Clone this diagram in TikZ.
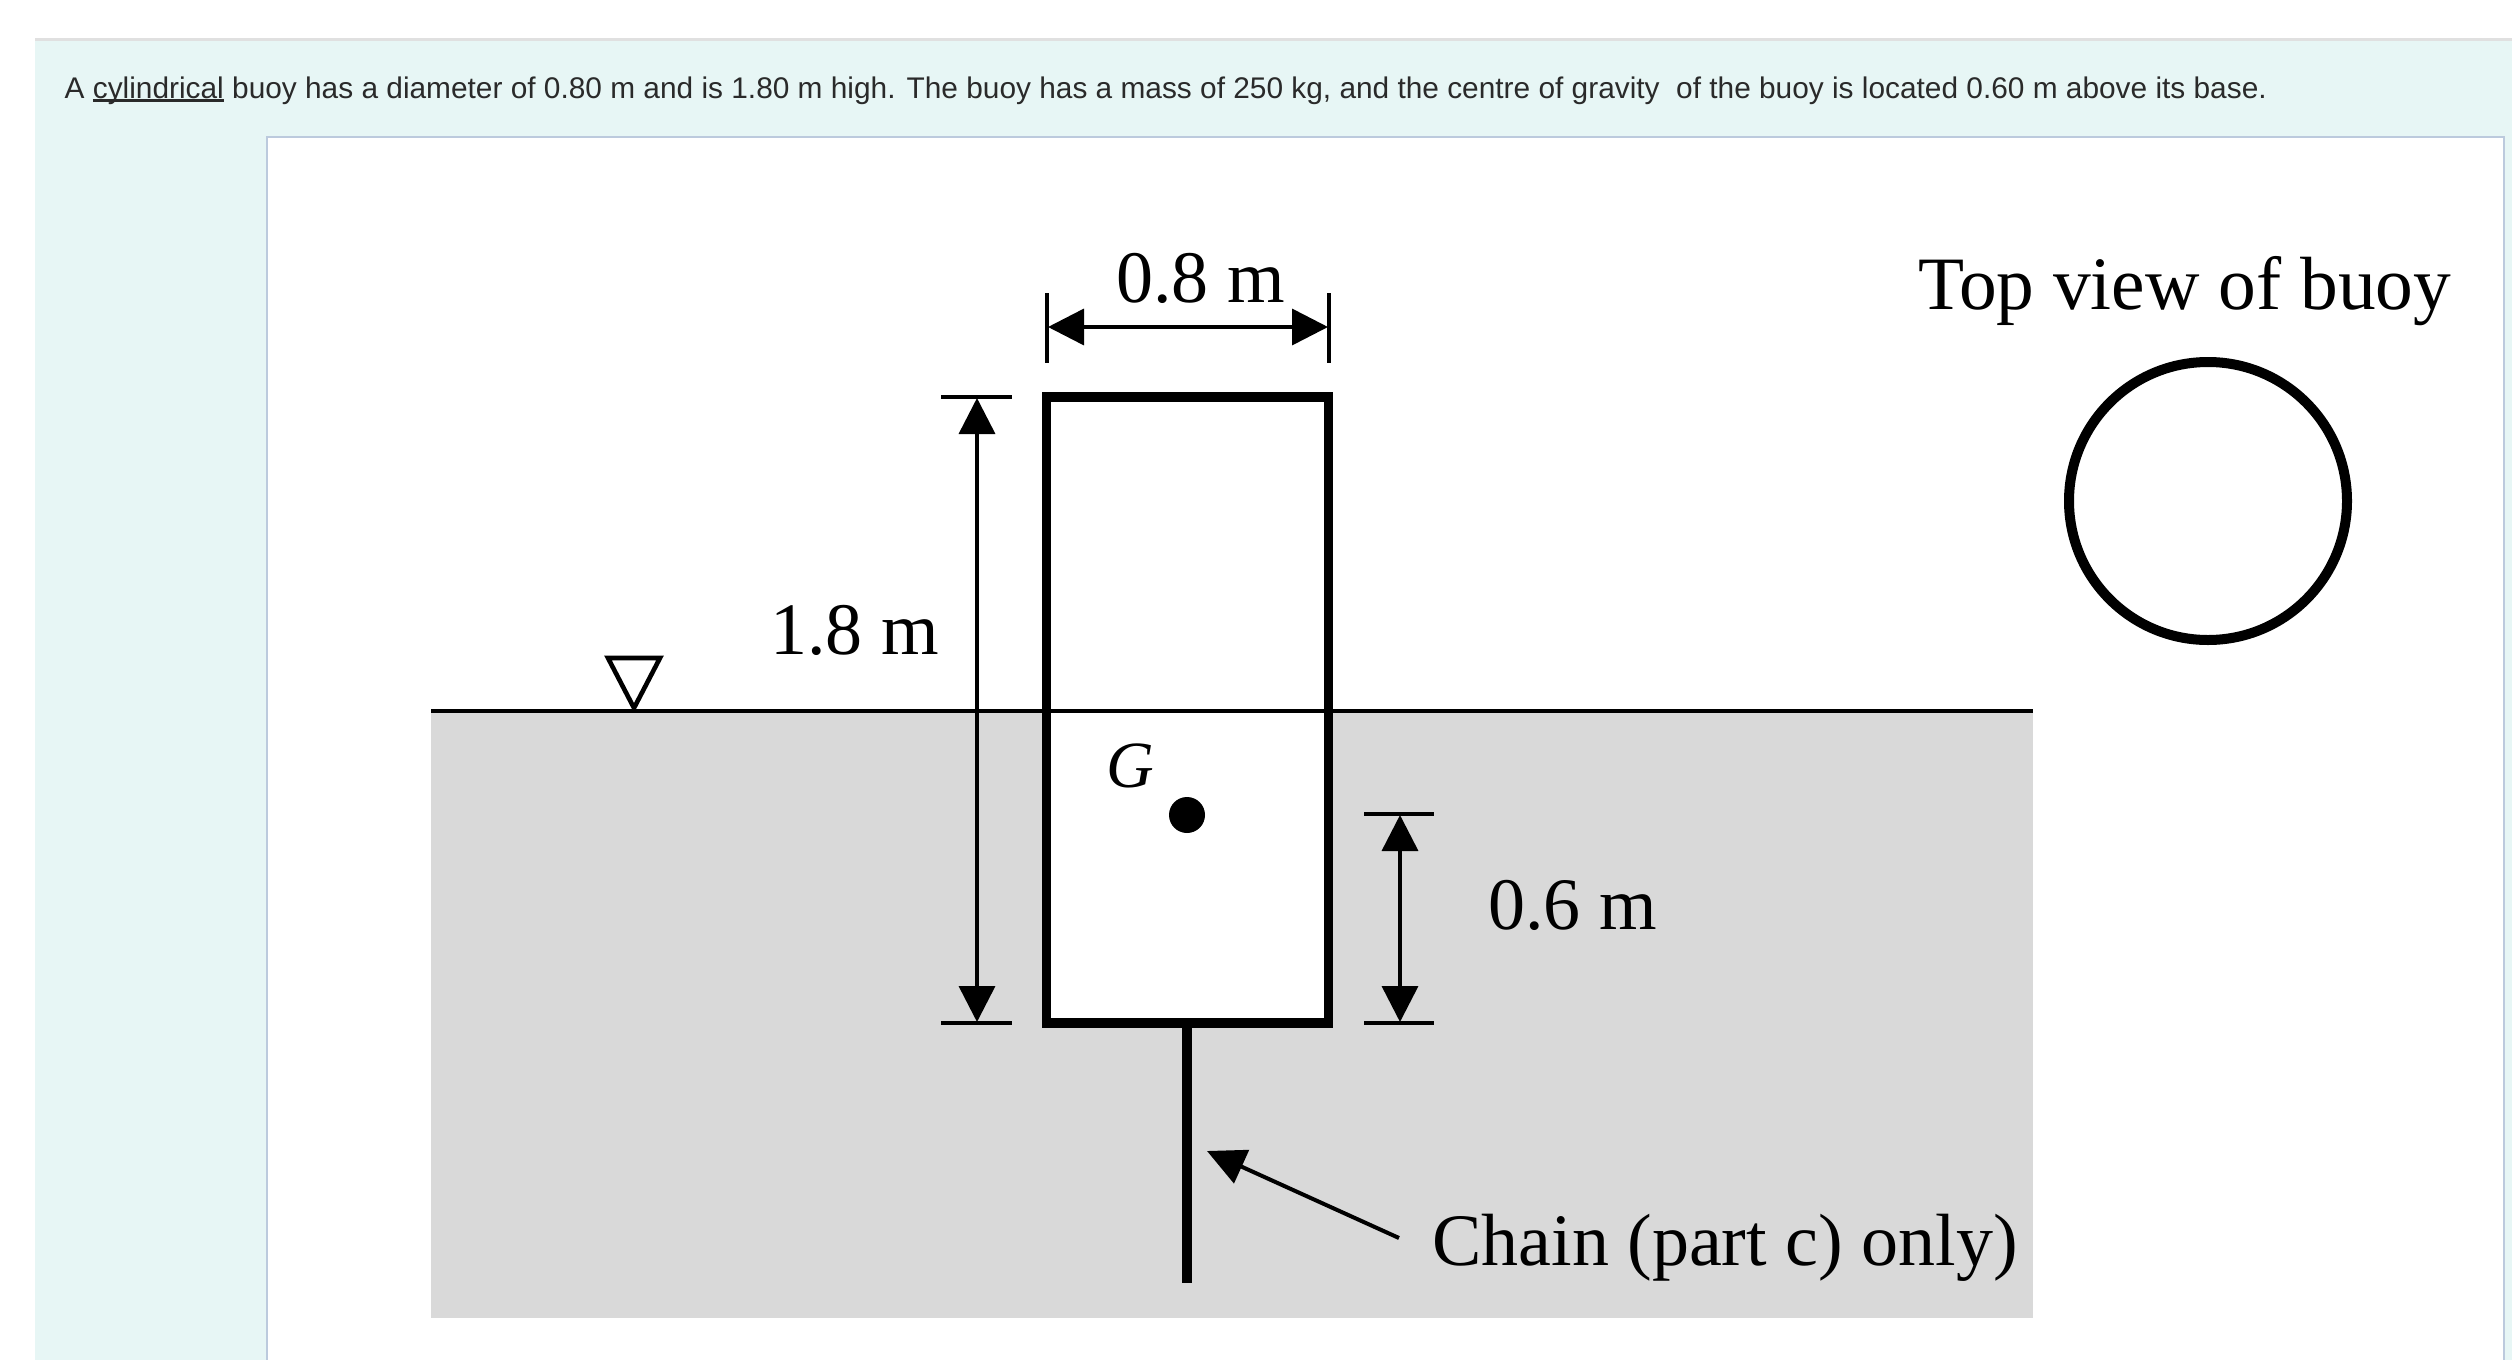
\documentclass[tikz,border=0pt]{standalone}
\usepackage{fontspec}
\setmainfont{Liberation Sans}
\newfontfamily\serifface{Liberation Serif}
\usetikzlibrary{arrows.meta}
\definecolor{panelbg}{HTML}{E7F6F5}
\definecolor{panelrule}{HTML}{E0E0E0}
\definecolor{figrule}{HTML}{BCCADD}
\definecolor{waterfill}{HTML}{D9D9D9}
\definecolor{prose}{HTML}{2A2A2A}
\newsavebox\ulword
\tikzset{
  x=1pt,y=-1pt,
  lbl/.style={inner sep=0pt,anchor=base west,font=\serifface\fontsize{74}{80}\selectfont,text=black},
  dimline/.style={line width=3.6pt,{Triangle[length=36pt,width=36pt]}-{Triangle[length=36pt,width=36pt]},shorten <=1pt,shorten >=1pt},
  tick/.style={line width=3.6pt},
  heavy/.style={line width=9.6pt},
  pt/.style={coordinate}
}
\begin{document}
\begin{tikzpicture}
\useasboundingbox (0,0) rectangle (2512,1360);
\fill[white] (0,0) rectangle (2512,1360);
\fill[panelbg] (35,39) rectangle (2512,1360);
\fill[panelrule] (35,38) rectangle (2512,41);
\fill[white] (266.5,136.5) rectangle (2504,1360);
\draw[figrule,line width=2pt] (266.5,1360) -- (266.5,136.5) -- (2504,136.5) -- (2504,1360);
\node[inner sep=0pt,anchor=base west,font=\fontsize{29.84}{36}\selectfont,text=prose] (prob) at (64.5,98)
  {\sbox\ulword{cylindrical}A \rlap{\rule[-3.6pt]{\wd\ulword}{2.2pt}}\usebox\ulword{} buoy has a diameter of 0.80 m and is 1.80 m high. The buoy has a mass of 250 kg, and the centre of gravity\ \ of the buoy is located 0.60 m above its base.};
% water
\fill[waterfill] (431,711) rectangle (2032.5,1317.5);
% buoy
\node[draw=none,fill=white,minimum width=281.5pt,minimum height=625.5pt,inner sep=0pt,anchor=north west] (buoy) at (1046.5,397) {};
\node[pt] (wl) at (431,711) {};
\node[pt] (wr) at (2032.5,711) {};
\draw[line width=4pt] (wl) -- (wr);
\draw[heavy] (buoy.south west) rectangle (buoy.north east);
% water-level symbol
\node[pt] (wa) at (634,708) {};
\node[pt] (wb) at (608,658) {};
\node[pt] (wc) at (660,658) {};
\draw[line width=4.6pt,line join=miter] (wa) -- (wb) -- (wc) -- cycle;
% chain
\node[pt] (ctop) at (1187,1022) {};
\node[pt] (cend) at (1187,1283) {};
\draw[heavy] (ctop) -- (cend);
\node[lbl] (chainlbl) at (1432,1265) {Chain (part c) only)};
\node[pt] (ctail) at (1399,1238) {};
\node[pt] (ctip) at (1207,1151) {};
\draw[line width=4pt,-{Triangle[length=38pt,width=36pt]}] (ctail) -- (ctip);
% G
\node[circle,fill=black,minimum size=36pt,inner sep=0pt] (gdot) at (1187,815) {};
\node[inner sep=0pt,anchor=base,font=\serifface\itshape\fontsize{66}{70}\selectfont] (glbl) at (1130,787) {G};
% width dimension
\node[pt] (t1a) at (1047,293) {};
\node[pt] (t1b) at (1047,363) {};
\node[pt] (t2a) at (1329,293) {};
\node[pt] (t2b) at (1329,363) {};
\node[pt] (d1) at (1047,327) {};
\node[pt] (d2) at (1329,327) {};
\draw[tick] (t1a) -- (t1b);
\draw[tick] (t2a) -- (t2b);
\draw[dimline] (d1) -- (d2);
\node[lbl] (w) at (1116,302) {0.8 m};
% height dimension
\node[pt] (h1a) at (941,397) {};
\node[pt] (h1b) at (1012,397) {};
\node[pt] (h2a) at (941,1023) {};
\node[pt] (h2b) at (1012,1023) {};
\node[pt] (h1) at (977,397) {};
\node[pt] (h2) at (977,1023) {};
\draw[tick] (h1a) -- (h1b);
\draw[tick] (h2a) -- (h2b);
\draw[dimline] (h1) -- (h2);
\node[lbl] (hl) at (770,654) {1.8 m};
% cg dimension
\node[pt] (g1a) at (1364,814) {};
\node[pt] (g1b) at (1434,814) {};
\node[pt] (g2a) at (1364,1023) {};
\node[pt] (g2b) at (1434,1023) {};
\node[pt] (g1) at (1400,814) {};
\node[pt] (g2) at (1400,1023) {};
\draw[tick] (g1a) -- (g1b);
\draw[tick] (g2a) -- (g2b);
\draw[dimline] (g1) -- (g2);
\node[lbl] (gl) at (1488,929) {0.6 m};
% top view
\node[lbl,font=\serifface\fontsize{75.4}{80}\selectfont] (tv) at (1918,309) {Top view of buoy};
\node[circle,draw=black,line width=10pt,minimum size=278pt,inner sep=0pt] (topc) at (2208,501) {};
\end{tikzpicture}
\end{document}
